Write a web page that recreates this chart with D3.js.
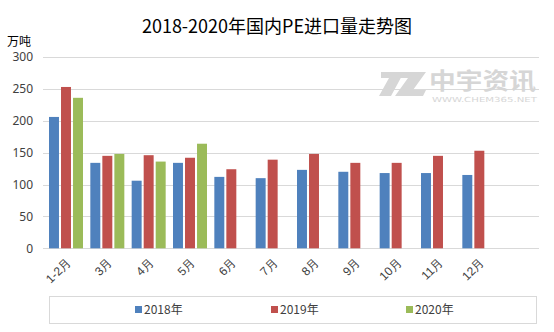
<!DOCTYPE html>
<html><head><meta charset="utf-8">
<script src="https://cdn.jsdelivr.net/npm/d3@7/dist/d3.min.js"></script>
<style>
html,body{margin:0;padding:0;background:#fff;}
svg{display:block;font-family:"Noto Sans CJK SC","Noto Sans",sans-serif;}
</style></head>
<body><svg id="c" width="554" height="332"></svg>
<script>
const categories = ["1-2月","3月","4月","5月","6月","7月","8月","9月","10月","11月","12月",""];
const seriesNames = ["2018年","2019年","2020年"];
const values2018 = [206,134,106,134,112,110,123,120,118,118,115,null];
const values2019 = [253,145,146,142,124,139,148,134,134,145,153,null];
const values2020 = [236,148,136,164,null,null,null,null,null,null,null,null];
const colors = ["#4F81BD","#C0504D","#9BBB59"];
const yTicks = [0,50,100,150,200,250,300];

const seriesValues = [values2018, values2019, values2020];
const svg = d3.select("#c");
const plotLeft = 43, plotRight = 539, plotTop = 57, plotBottom = 248.3;

const x = d3.scaleBand().domain(categories).range([plotLeft, plotRight]).padding(0);
const y = d3.scaleLinear().domain([0,300]).range([plotBottom, plotTop]);
const x1 = d3.scaleBand().domain(seriesNames).range([6, 40]).paddingInner(0.17).paddingOuter(0);

// gridlines
svg.append("g").selectAll("line").data(yTicks).join("line")
  .attr("x1", plotLeft).attr("x2", plotRight)
  .attr("y1", d => Math.round(y(d)) + 0.5).attr("y2", d => Math.round(y(d)) + 0.5)
  .attr("stroke", "#D9D9D9").attr("stroke-width", 1);

// y axis labels
const yAxis = d3.axisLeft(y).tickValues(yTicks).tickSize(0).tickPadding(0);
const gy = svg.append("g").attr("transform", `translate(33,0)`).call(yAxis);
gy.select(".domain").remove();
gy.selectAll("text").attr("fill", "#404040").style("font-size", "12px")
  .style("font-family", "'Noto Sans','DejaVu Sans',sans-serif");

// watermark
const wm = svg.append("g").attr("fill", "#D6D6D6");
wm.append("polygon").attr("points", "381,72 404,72 391,96 379,96 389,78 381,78");
wm.append("polygon").attr("points", "398,72 426,72 413,90 426,90 423,96 395,96 408,78 395,78");
wm.append("text").attr("x", 429).attr("y", 89).attr("textLength", 107).attr("lengthAdjust","spacingAndGlyphs")
  .style("font-size", "23px").style("font-weight", "bold").text("中宇资讯");
wm.append("text").attr("x", 432).attr("y", 102).attr("textLength", 105).attr("lengthAdjust","spacingAndGlyphs")
  .style("font-size", "7px").style("font-family","'DejaVu Sans Condensed','DejaVu Sans',sans-serif").text("WWW.CHEM365.NET");

// bars
const groups = svg.append("g").selectAll("g").data(categories).join("g")
  .attr("transform", d => `translate(${x(d)},0)`);
groups.selectAll("rect").data((d,i) => seriesNames.map((s,j) => ({s, v: seriesValues[j][i], c: colors[j]})).filter(e => e.v != null))
  .join("rect")
  .attr("x", e => x1(e.s)).attr("width", x1.bandwidth())
  .attr("y", e => y(e.v)).attr("height", e => y(0) - y(e.v))
  .attr("fill", e => e.c);

// x axis labels
const xAxis = d3.axisBottom(x).tickSize(0).tickPadding(0);
const gx = svg.append("g").attr("transform", `translate(2,${plotBottom + 9})`).call(xAxis);
gx.select(".domain").remove();
gx.selectAll("text").attr("fill", "#404040").style("font-size", "12px")
  .attr("text-anchor", "end").attr("dy", "0.7em").attr("transform", "rotate(-45)");

// title
svg.append("text").attr("x", 277).attr("y", 33).attr("text-anchor", "middle")
  .attr("fill", "#000").style("font-size", "18px").text("2018-2020年国内PE进口量走势图");
// unit
svg.append("text").attr("x", 7).attr("y", 46).attr("fill", "#000").style("font-size", "12px").text("万吨");

// legend
svg.append("rect").attr("x", 49.5).attr("y", 296.5).attr("width", 487).attr("height", 27)
  .attr("fill", "none").attr("stroke", "#D9D9D9");
const lx = [135, 271, 406];
const lg = svg.append("g").selectAll("g").data(seriesNames).join("g")
  .attr("transform", (d,i) => `translate(${lx[i]},306)`);
lg.append("rect").attr("width", 7).attr("height", 7).attr("fill", (d,i) => colors[i]);
lg.append("text").attr("x", 9).attr("y", 7.5).attr("fill", "#404040").style("font-size", "12px").text(d => d);
</script></body></html>
